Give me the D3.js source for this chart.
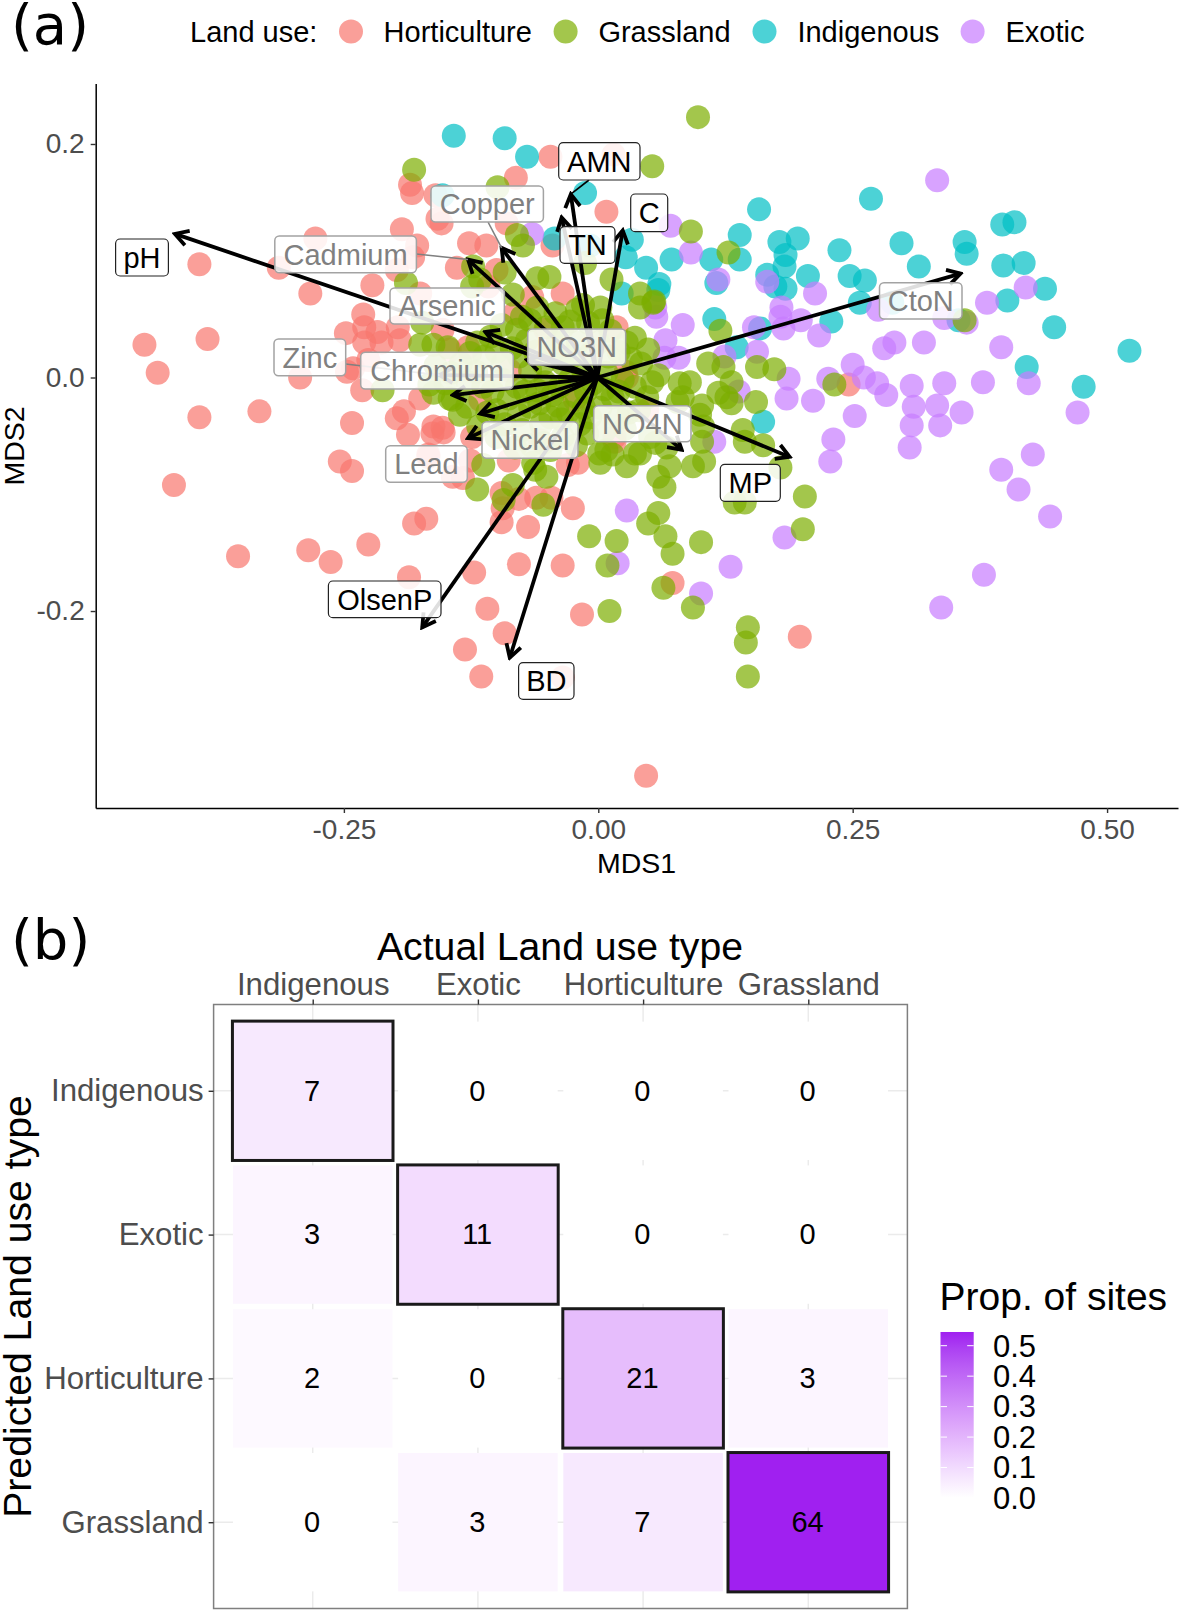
<!DOCTYPE html>
<html>
<head>
<meta charset="utf-8">
<script src="https://cdn.jsdelivr.net/npm/d3@7"></script>
<style>
  html, body { margin: 0; padding: 0; background: #fff; }
  text { font-family: "Liberation Sans", Arial, sans-serif; }
</style>
</head>
<body>
<div id="chart"></div>
<script>
// ---- panel (a) data, MDS1 / MDS2 ----
var horticulture = [[-0.392,0.097],[-0.446,0.028],[-0.384,0.033],[-0.433,0.004],[-0.392,-0.034],[-0.333,-0.029],[-0.278,0.119],[-0.314,0.094],[-0.283,0.072],[-0.242,-0.039],
  [-0.222,0.079],[-0.193,0.127],[-0.178,0.113],[-0.182,0.103],[-0.198,0.092],[-0.231,0.054],[-0.230,0.043],[-0.248,0.038],[-0.217,0.039],[-0.230,0.030],
  [-0.213,0.030],[-0.195,0.032],[-0.197,0.043],[-0.241,0.008],[-0.293,0.000],[-0.247,0.005],[-0.232,-0.011],[-0.226,0.015],[-0.175,-0.018],[-0.191,-0.029],
  [-0.198,-0.035],[-0.187,-0.049],[-0.162,-0.042],[-0.153,-0.043],[-0.167,-0.066],[-0.143,-0.085],[-0.417,-0.092],[-0.354,-0.153],[-0.285,-0.148],[-0.263,-0.158],
  [-0.226,-0.143],[-0.181,-0.125],[-0.169,-0.121],[-0.254,-0.072],[-0.242,-0.080],[-0.186,-0.171],[-0.122,-0.167],[-0.078,-0.160],[-0.035,-0.161],[-0.069,-0.128],
  [-0.025,-0.112],[-0.095,-0.124],[-0.094,-0.112],[-0.078,-0.104],[-0.061,-0.103],[-0.046,-0.103],[-0.095,-0.099],[-0.109,-0.198],[-0.016,-0.203],[-0.092,-0.219],
  [-0.131,-0.233],[-0.115,-0.256],[-0.035,-0.257],[-0.167,-0.068],[-0.133,-0.086],[-0.163,-0.048],[-0.152,-0.047],[-0.124,-0.051],[-0.088,-0.071],[-0.020,-0.073],
  [-0.030,-0.075],[0.073,-0.176],[-0.126,-0.071],[0.016,-0.055],[0.048,-0.028],[0.047,-0.341],[0.198,-0.222],[-0.047,0.189],[0.015,0.191],[-0.081,0.171],
  [-0.185,0.165],[-0.183,0.158],[-0.160,0.156],[-0.158,0.136],[-0.154,0.132],[-0.090,0.132],[0.008,0.142],[-0.127,0.115],[-0.110,0.113],[-0.139,0.094],
  [-0.100,0.092],[-0.045,0.113],[-0.065,0.069],[-0.035,0.072],[0.018,0.043],[0.028,0.000],[-0.175,0.072],[-0.153,0.041],[-0.146,0.024],[-0.128,0.026],
  [-0.108,0.078],[-0.082,0.055],[0.246,-0.006],[0.027,0.005],[0.016,-0.051],[-0.052,0.041],[-0.023,-0.019],[-0.087,0.006],[-0.116,-0.019],[-0.057,-0.054]];

var indigenous = [[-0.142,0.207],[-0.092,0.205],[-0.070,0.189],[-0.013,0.158],[-0.153,0.156],[-0.043,0.119],[0.033,0.118],[-0.008,0.113],[0.027,0.103],[0.047,0.094],
  [0.072,0.101],[0.023,0.072],[0.060,0.080],[0.059,0.075],[0.158,0.144],[0.268,0.153],[0.139,0.122],[0.178,0.116],[0.196,0.119],[0.184,0.105],
  [0.183,0.095],[0.166,0.088],[0.174,0.078],[0.184,0.076],[0.206,0.087],[0.237,0.109],[0.298,0.115],[0.247,0.087],[0.262,0.083],[0.257,0.064],
  [0.360,0.116],[0.362,0.106],[0.397,0.131],[0.409,0.133],[0.398,0.096],[0.418,0.098],[0.402,0.066],[0.439,0.076],[0.448,0.043],[0.522,0.023],
  [0.477,-0.008],[0.421,0.009],[0.315,0.095],[0.111,0.101],[0.139,0.101],[0.116,0.081],[0.114,0.050],[0.229,0.048],[0.159,0.042],[0.136,0.026],
  [0.354,0.049],[0.289,0.064],[0.162,-0.038]];

var exotic = [[0.333,0.169],[0.071,0.130],[0.091,0.107],[0.118,0.084],[0.213,0.072],[0.166,0.082],[0.180,0.060],[0.179,0.052],[0.182,0.042],[0.199,0.049],
  [0.217,0.036],[0.153,0.043],[0.156,0.022],[0.124,0.018],[0.057,0.052],[0.056,0.060],[0.083,0.045],[0.066,0.032],[0.065,0.017],[0.079,0.017],
  [0.275,0.058],[0.291,0.030],[0.281,0.025],[0.320,0.030],[0.340,0.051],[0.362,0.047],[0.382,0.064],[0.420,0.077],[0.396,0.026],[0.187,-0.001],
  [0.226,-0.001],[0.250,0.011],[0.261,0.000],[0.274,-0.005],[0.283,-0.015],[0.308,-0.007],[0.340,-0.005],[0.378,-0.004],[0.423,-0.005],[0.185,-0.018],
  [0.211,-0.020],[0.252,-0.033],[0.310,-0.025],[0.333,-0.024],[0.357,-0.030],[0.471,-0.030],[0.308,-0.041],[0.336,-0.041],[0.138,-0.012],[0.231,-0.053],
  [0.228,-0.072],[0.306,-0.060],[0.396,-0.079],[0.427,-0.066],[0.413,-0.096],[0.444,-0.119],[0.379,-0.169],[0.337,-0.197],[0.028,-0.114],[0.183,-0.137],
  [0.130,-0.162],[0.101,-0.185],[0.019,-0.159],[0.114,-0.055],[-0.065,0.123]];

var grassland = [[-0.181,0.178],[-0.099,0.163],[0.053,0.181],[0.098,0.223],[-0.080,0.122],[-0.074,0.113],[0.091,0.125],[-0.123,0.095],[-0.060,0.085],[-0.048,0.086],
  [0.013,0.084],[-0.124,0.078],[-0.116,0.084],[-0.092,0.090],[-0.084,0.071],[0.041,0.072],[0.041,0.060],[0.054,0.064],[-0.013,0.098],[0.002,0.060],
  [0.004,0.049],[-0.035,0.043],[-0.021,0.058],[-0.189,0.081],[-0.173,0.047],[-0.175,0.028],[-0.162,0.028],[-0.212,-0.011],[-0.162,-0.013],[-0.148,0.026],
  [0.036,0.034],[0.049,0.024],[0.028,0.030],[0.053,-0.004],[0.059,0.002],[0.080,-0.005],[0.090,-0.004],[0.120,0.040],[0.108,0.012],[0.123,0.009],
  [0.156,0.009],[0.173,0.007],[0.083,-0.017],[0.078,-0.021],[0.102,-0.024],[0.048,-0.017],[0.118,-0.013],[0.126,-0.017],[0.131,-0.004],[0.131,-0.022],
  [0.155,-0.021],[0.100,-0.032],[0.103,-0.042],[0.102,-0.055],[0.142,-0.045],[0.144,-0.055],[0.162,-0.058],[0.104,-0.072],[0.093,-0.076],[0.070,-0.076],
  [0.059,-0.085],[0.065,-0.094],[0.179,-0.077],[0.134,-0.107],[0.144,-0.107],[0.203,-0.102],[0.201,-0.130],[0.059,-0.116],[0.049,-0.125],[0.066,-0.136],
  [0.101,-0.141],[0.073,-0.151],[0.041,-0.065],[0.056,-0.056],[0.067,-0.060],[0.232,-0.006],[0.128,0.107],[0.055,0.065],[0.360,0.049],[-0.113,-0.075],
  [-0.119,-0.096],[-0.084,-0.092],[-0.093,-0.105],[-0.054,-0.109],[-0.062,-0.079],[-0.051,-0.085],[-0.009,-0.136],[0.018,-0.140],[0.009,-0.161],[0.064,-0.180],
  [0.093,-0.197],[0.011,-0.200],[0.147,-0.214],[0.145,-0.227],[0.147,-0.256],[-0.136,-0.032],[-0.146,-0.018],[-0.109,-0.030],[-0.011,-0.048],[-0.047,-0.062],
  [0.001,-0.065],[0.014,-0.066],[0.028,-0.076],[0.036,-0.065],[0.008,-0.062],[0.051,-0.051],[-0.064,-0.073],[-0.143,-0.019],[-0.129,-0.025],[0.002,-0.073],
  [-0.015,0.062],[-0.067,0.049],[-0.051,0.043],[-0.080,0.041],[-0.070,0.032],[-0.106,0.035],[-0.119,0.030],[-0.126,0.021],[-0.094,0.012],[-0.080,-0.008],
  [-0.060,-0.011],[-0.038,-0.008],[-0.021,-0.017],[-0.067,-0.025],[-0.047,-0.034],[-0.008,-0.034],[0.014,-0.017],[0.008,0.004],[-0.015,0.006],[-0.035,0.012],
  [-0.054,0.012],[-0.067,0.006],[-0.094,-0.002],[-0.113,-0.008],[-0.100,-0.028],[-0.035,-0.051],[-0.054,-0.056],[-0.100,-0.051],[0.024,-0.002],[-0.040,0.030],
  [-0.020,0.030],[0.000,0.030],[-0.060,0.060],[-0.030,-0.030],[0.030,-0.030],[-0.005,-0.005],[-0.085,0.025],[-0.045,-0.015],[0.020,-0.035],[-0.120,0.005],[-0.075,-0.045],
  [-0.095,0.045],[-0.075,0.052],[-0.042,0.055],[-0.028,0.048],[-0.010,0.047],[0.012,0.040],[0.020,0.022],[0.010,0.018],[-0.008,0.020],[-0.026,0.018],
  [-0.045,0.022],[-0.062,0.022],[-0.078,0.018],[-0.100,0.022],[-0.112,0.018],[-0.135,0.012],[-0.145,0.004],[-0.128,-0.004],[-0.104,-0.012],[-0.088,-0.018],
  [-0.072,-0.012],[-0.052,-0.004],[-0.028,-0.002],[-0.012,-0.012],[0.006,-0.010],[0.020,-0.012],[0.036,-0.008],[0.040,-0.028],[0.026,-0.044],[0.006,-0.046],
  [-0.018,-0.040],[-0.036,-0.036],[-0.056,-0.040],[-0.078,-0.032],[-0.092,-0.040],[-0.118,-0.042],[-0.066,-0.058],[-0.082,-0.060],[-0.022,-0.058],[0.002,-0.026],
  [-0.014,-0.026],[-0.040,-0.024],[-0.058,-0.022],[0.042,0.012],[0.032,0.016],[-0.160,0.010],[-0.150,-0.005],[-0.166,-0.006]];

// envfit vectors
var vectorNames = ["pH","Cadmium","Copper","AMN","TN","C","Arsenic","NO3N","Zinc","Chromium","Nickel","Lead","NO4N","MP","CtoN","OlsenP","BD"];
var vectorX = [-0.416,-0.128,-0.095,-0.027,-0.036,0.024,-0.111,-0.070,-0.156,-0.143,-0.116,-0.128,0.082,0.188,0.356,-0.173,-0.087];
var vectorY = [0.123,0.101,0.111,0.157,0.137,0.126,0.039,0.015,0.002,-0.015,-0.031,-0.052,-0.062,-0.068,0.089,-0.214,-0.240];
var metals = ["Cadmium","Copper","Arsenic","NO3N","Zinc","Chromium","Nickel","Lead","NO4N","CtoN"];

var xTicks = [-0.25, 0, 0.25, 0.5];
var xTickLabels = ["-0.25","0.00","0.25","0.50"];
var yTicks = [-0.2, 0, 0.2];
var yTickLabels = ["-0.2","0.0","0.2"];
var landUses = ["Horticulture","Grassland","Indigenous","Exotic"];

// ---- panel (b) data ----
var actualTypes = ["Indigenous","Exotic","Horticulture","Grassland"];
var predictedTypes = ["Indigenous","Exotic","Horticulture","Grassland"];
// rows = predicted, columns = actual
var siteCounts = [
  [7, 0, 0, 0],
  [3, 11, 0, 0],
  [2, 0, 21, 3],
  [0, 3, 7, 64]
];
var legendTicks = [0, 0.1, 0.2, 0.3, 0.4, 0.5];
var legendMax = 0.545;

// ---- layout ----
var svgWidth = 1181, svgHeight = 1610;
var svg = d3.select("#chart").append("svg")
  .attr("width", svgWidth)
  .attr("height", svgHeight)
  .style("display", "block");

var colors = { Horticulture: "#F8766D", Grassland: "#7CAE00", Indigenous: "#00BFC4", Exotic: "#C77CFF" };
var pointOpacity = 0.7, pointRadius = 12;

// label boxes are placed by hand like ggrepel left them: [left, right, top, bottom] in page pixels
var labelBoxes = {
  pH: [115.6,168.4,239,276], Cadmium: [274.8,416.4,236,272.7], Copper: [431,543.4,186,222],
  AMN: [558.7,640,142.7,180], TN: [560,615,226.7,263.3], C: [630.7,667.7,194,231.7],
  Arsenic: [390,504.4,288,324], NO3N: [527.7,625.7,329,365], Zinc: [274,345.7,339,375.7],
  Chromium: [360.7,513.3,352.3,389], Nickel: [482,578,421.7,458.3], Lead: [385.7,467.3,445.7,482.3],
  NO4N: [593.7,691,405.7,441.7], MP: [720.3,780.3,464.3,501.3], CtoN: [879.5,962,282.7,319],
  OlsenP: [328.4,441,581,617.7], BD: [518.6,574,662.7,699.3]
};
// where the repel segment leaves the box
var segmentStart = { Cadmium: [416.4,254], Copper: [488,222], Zinc: [345.7,364], AMN: [589,180] };

// ---- panel (a) ----
var plotLeft = 95.7, plotRight = 1178, plotTop = 83.5, plotBottom = 808;
var xScale = d3.scaleLinear().domain([-0.4939, 0.5697]).range([plotLeft, plotRight]);
var yScale = d3.scaleLinear().domain([-0.3687, 0.2518]).range([plotBottom, plotTop]);

var panelA = svg.append("g");

// draw order: grassland last, it sits on top in the middle of the cloud
var pointGroups = [
  { name: "Horticulture", values: horticulture },
  { name: "Indigenous", values: indigenous },
  { name: "Exotic", values: exotic },
  { name: "Grassland", values: grassland }
];
pointGroups.forEach(function(group) {
  panelA.append("g").selectAll("circle")
    .data(group.values)
    .enter()
    .append("circle")
    .attr("cx", d => xScale(d[0]))
    .attr("cy", d => yScale(d[1]))
    .attr("r", pointRadius)
    .attr("fill", colors[group.name])
    .attr("fill-opacity", pointOpacity);
});

// open arrow head
var defs = svg.append("defs");
defs.append("marker")
  .attr("id", "head")
  .attr("markerUnits", "userSpaceOnUse")
  .attr("viewBox", "-17 -11 20 22")
  .attr("refX", 0)
  .attr("refY", 0)
  .attr("markerWidth", 20)
  .attr("markerHeight", 22)
  .attr("orient", "auto")
  .append("path")
  .attr("d", "M-13,-7.5L0,0L-13,7.5")
  .attr("fill", "none")
  .attr("stroke", "#000")
  .attr("stroke-width", 3.8);

var vectors = vectorNames.map(function(name, i) {
  return { name: name, x: vectorX[i], y: vectorY[i], metal: metals.indexOf(name) >= 0 };
});

panelA.append("g").selectAll("line")
  .data(vectors)
  .enter()
  .append("line")
  .attr("x1", xScale(0) - 1)
  .attr("y1", yScale(0))
  .attr("x2", d => xScale(d.x))
  .attr("y2", d => yScale(d.y))
  .attr("stroke", "#000")
  .attr("stroke-width", 3.8)
  .attr("marker-end", "url(#head)");

// repel segments
panelA.append("g").selectAll("line")
  .data(vectors.filter(d => segmentStart[d.name]))
  .enter()
  .append("line")
  .attr("x1", d => segmentStart[d.name][0])
  .attr("y1", d => segmentStart[d.name][1])
  .attr("x2", d => xScale(d.x))
  .attr("y2", d => yScale(d.y))
  .attr("stroke", d => d.metal ? "#808080" : "#000")
  .attr("stroke-width", 1.6);

var labels = panelA.append("g").selectAll("g")
  .data(vectors)
  .enter()
  .append("g");
labels.append("rect")
  .attr("x", d => labelBoxes[d.name][0])
  .attr("y", d => labelBoxes[d.name][2])
  .attr("width", d => labelBoxes[d.name][1] - labelBoxes[d.name][0])
  .attr("height", d => labelBoxes[d.name][3] - labelBoxes[d.name][2])
  .attr("rx", 4.5)
  .attr("fill", "#fff")
  .attr("fill-opacity", 0.87)
  .attr("stroke", d => d.metal ? "#a3a3a3" : "#222")
  .attr("stroke-width", d => d.metal ? 1.5 : 1.2);
labels.append("text")
  .attr("x", d => (labelBoxes[d.name][0] + labelBoxes[d.name][1]) / 2)
  .attr("y", d => (labelBoxes[d.name][2] + labelBoxes[d.name][3]) / 2 + 10.2)
  .attr("text-anchor", "middle")
  .attr("font-size", 29)
  .attr("fill", d => d.metal ? "#808080" : "#000")
  .text(d => d.name);

// axes
var bottomAxis = d3.axisBottom(xScale)
  .tickValues(xTicks)
  .tickFormat((d, i) => xTickLabels[i])
  .tickSizeInner(5)
  .tickSizeOuter(0)
  .tickPadding(6);
var leftAxis = d3.axisLeft(yScale)
  .tickValues(yTicks)
  .tickFormat((d, i) => yTickLabels[i])
  .tickSizeInner(5)
  .tickSizeOuter(0)
  .tickPadding(6);

var xAxisG = panelA.append("g")
  .attr("transform", `translate(0, ${plotBottom})`)
  .call(bottomAxis);
var yAxisG = panelA.append("g")
  .attr("transform", `translate(${plotLeft}, 0)`)
  .call(leftAxis);

[xAxisG, yAxisG].forEach(function(a) {
  a.select(".domain").attr("stroke", "#000").attr("stroke-width", 1.5);
  a.selectAll(".tick line").attr("stroke", "#333").attr("stroke-width", 1.4);
  a.selectAll(".tick text")
    .attr("fill", "#4D4D4D")
    .style("font-size", "28px")
    .style("font-family", '"Liberation Sans", Arial, sans-serif');
});

svg.append("text")
  .attr("x", 636.5).attr("y", 873)
  .attr("text-anchor", "middle")
  .attr("font-size", 28.5)
  .text("MDS1");
svg.append("text")
  .attr("transform", "translate(24, 446) rotate(-90)")
  .attr("text-anchor", "middle")
  .attr("font-size", 28.5)
  .text("MDS2");

// legend on top
svg.append("text").attr("x", 190).attr("y", 42).attr("font-size", 29).text("Land use:");
var legendDotX = [351, 565.6, 764.5, 972.6];
var legendTextX = [383.6, 598.4, 797.4, 1005.5];
landUses.forEach(function(name, i) {
  svg.append("circle")
    .attr("cx", legendDotX[i]).attr("cy", 31.5).attr("r", pointRadius)
    .attr("fill", colors[name]).attr("fill-opacity", pointOpacity);
  svg.append("text")
    .attr("x", legendTextX[i]).attr("y", 42)
    .attr("font-size", 29)
    .text(name);
});

svg.append("text")
  .attr("x", 11).attr("y", 44)
  .style("font-family", '"DejaVu Sans", sans-serif')
  .attr("font-size", 56)
  .text("(a)");
svg.append("text")
  .attr("x", 11).attr("y", 958.5)
  .style("font-family", '"DejaVu Sans", sans-serif')
  .attr("font-size", 56)
  .text("(b)");

// ---- panel (b) ----
var bLeft = 213.6, bRight = 907.4, bTop = 1004.5, bBottom = 1608.5;
var colX = d3.scalePoint().domain(actualTypes).range([bLeft, bRight]).padding(0.6);
var rowY = d3.scalePoint().domain(predictedTypes).range([bTop, bBottom]).padding(0.6);
var tileW = colX.step() * 0.966, tileH = rowY.step() * 0.962;

var tileColor = d3.scaleLinear()
  .domain([0, 64])
  .range(["#ffffff", "#A020F0"])
  .interpolate(d3.interpolateLab);

var panelB = svg.append("g");

// grid under tiles
panelB.append("g").selectAll("line")
  .data(actualTypes)
  .enter()
  .append("line")
  .attr("x1", d => colX(d)).attr("x2", d => colX(d))
  .attr("y1", bTop).attr("y2", bBottom)
  .attr("stroke", "#EBEBEB").attr("stroke-width", 1.5);
panelB.append("g").selectAll("line")
  .data(predictedTypes)
  .enter()
  .append("line")
  .attr("y1", d => rowY(d)).attr("y2", d => rowY(d))
  .attr("x1", bLeft).attr("x2", bRight)
  .attr("stroke", "#EBEBEB").attr("stroke-width", 1.5);

var cells = [];
predictedTypes.forEach(function(row, r) {
  actualTypes.forEach(function(col, c) {
    cells.push({ row: row, col: col, n: siteCounts[r][c], diag: r === c });
  });
});

panelB.append("g").selectAll("rect")
  .data(cells.filter(d => !d.diag))
  .enter()
  .append("rect")
  .attr("x", d => colX(d.col) - tileW / 2)
  .attr("y", d => rowY(d.row) - tileH / 2)
  .attr("width", tileW)
  .attr("height", tileH)
  .attr("fill", d => tileColor(d.n));

// the correct predictions get a black outline
panelB.append("g").selectAll("rect")
  .data(cells.filter(d => d.diag))
  .enter()
  .append("rect")
  .attr("x", d => colX(d.col) - tileW / 2 - 0.5)
  .attr("y", d => rowY(d.row) - tileH / 2 - 0.5)
  .attr("width", tileW + 1)
  .attr("height", tileH + 1)
  .attr("fill", d => tileColor(d.n))
  .attr("stroke", "#1a1a1a")
  .attr("stroke-width", 3);

panelB.append("g").selectAll("text")
  .data(cells)
  .enter()
  .append("text")
  .attr("x", d => colX(d.col) - 0.7)
  .attr("y", d => rowY(d.row) + 9.8)
  .attr("text-anchor", "middle")
  .attr("font-size", 29)
  .attr("fill", "#000")
  .text(d => d.n);

// frame and axes, actual on top
panelB.append("rect")
  .attr("x", bLeft).attr("y", bTop)
  .attr("width", bRight - bLeft).attr("height", bBottom - bTop)
  .attr("fill", "none")
  .attr("stroke", "#7f7f7f")
  .attr("stroke-width", 1.5);

var topAxis = d3.axisTop(colX).tickSizeInner(5).tickSizeOuter(0).tickPadding(5);
var sideAxis = d3.axisLeft(rowY).tickSizeInner(5).tickSizeOuter(0).tickPadding(5);
var topG = panelB.append("g").attr("transform", `translate(0, ${bTop})`).call(topAxis);
var sideG = panelB.append("g").attr("transform", `translate(${bLeft}, 0)`).call(sideAxis);
[topG, sideG].forEach(function(a) {
  a.select(".domain").remove();
  a.selectAll(".tick line").attr("stroke", "#333").attr("stroke-width", 1.4);
  a.selectAll(".tick text")
    .attr("fill", "#4D4D4D")
    .style("font-size", "31.2px")
    .style("font-family", '"Liberation Sans", Arial, sans-serif');
});

svg.append("text")
  .attr("x", 560).attr("y", 960)
  .attr("text-anchor", "middle")
  .attr("font-size", 39.2)
  .text("Actual Land use type");
svg.append("text")
  .attr("transform", "translate(30.5, 1306.5) rotate(-90)")
  .attr("text-anchor", "middle")
  .attr("font-size", 39.2)
  .text("Predicted Land use type");

// colour bar
svg.append("text")
  .attr("x", 939.5).attr("y", 1310)
  .attr("font-size", 39)
  .text("Prop. of sites");

var barScale = d3.scaleLinear().domain([0, 0.5]).range([1498, 1345.7]);
var barTop = barScale(legendMax), barBottom = 1497.7, barLeft = 940.5, barRight = 973.7;
var gradient = defs.append("linearGradient")
  .attr("id", "propBar")
  .attr("x1", 0).attr("y1", 1).attr("x2", 0).attr("y2", 0);
gradient.selectAll("stop")
  .data(d3.range(0, 1.001, 0.1))
  .enter()
  .append("stop")
  .attr("offset", d => d)
  .attr("stop-color", d => tileColor(d * 64));
svg.append("rect")
  .attr("x", barLeft).attr("y", barTop)
  .attr("width", barRight - barLeft).attr("height", barBottom - barTop)
  .attr("fill", "url(#propBar)");

var legendG = svg.append("g").selectAll("g")
  .data(legendTicks)
  .enter()
  .append("g");
legendG.append("line")
  .attr("x1", barLeft).attr("x2", barLeft + 6.5)
  .attr("y1", d => barScale(d)).attr("y2", d => barScale(d))
  .attr("stroke", "#fff").attr("stroke-width", 1);
legendG.append("line")
  .attr("x1", barRight - 6.5).attr("x2", barRight)
  .attr("y1", d => barScale(d)).attr("y2", d => barScale(d))
  .attr("stroke", "#fff").attr("stroke-width", 1);
legendG.append("text")
  .attr("x", 993)
  .attr("y", d => barScale(d) + 10.8)
  .attr("font-size", 31)
  .text(d => d.toFixed(1));
</script>
</body>
</html>
